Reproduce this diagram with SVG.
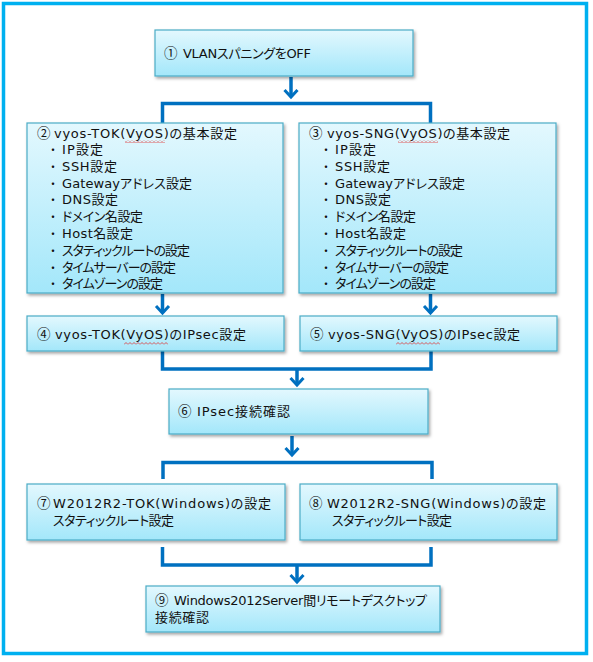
<svg xmlns="http://www.w3.org/2000/svg" width="593" height="662" viewBox="0 0 593 662">
<defs>
<linearGradient id="boxFill" x1="0" y1="0" x2="0" y2="1">
<stop offset="0" stop-color="#E3F8FE"/>
<stop offset="1" stop-color="#A3E7FA"/>
</linearGradient>
<filter id="shadow" x="-10%" y="-10%" width="125%" height="150%">
<feDropShadow dx="1.5" dy="2" stdDeviation="1.5" flood-color="#000" flood-opacity="0.35"/>
</filter>
<marker id="arrow" markerUnits="userSpaceOnUse" markerWidth="20" markerHeight="20" viewBox="-12 -10 16 20" refX="0" refY="0" orient="auto">
<path d="M-7,-6.5 L0,0 L-7,6.5" fill="none" stroke="#0070C0" stroke-width="3"/>
</marker>
<pattern id="squiggle" width="4" height="3" patternUnits="userSpaceOnUse">
<path d="M0,2.5 L2,0.5 L4,2.5" fill="none" stroke="#E03030" stroke-width="0.8"/>
</pattern>
<style>
.box { fill:url(#boxFill); stroke:#4BACC6; stroke-width:1.2; filter:url(#shadow); }
.t { font-family:"DejaVu Sans","Noto Sans CJK JP",sans-serif; font-size:13px; fill:#111; font-feature-settings:"palt" 1; }
.c { font-family:"Noto Sans CJK JP",sans-serif; font-size:13.5px; fill:#111; }
.b { font-family:"Noto Sans CJK JP",sans-serif; font-size:11.5px; fill:#111; text-anchor:middle; }
.conn { fill:none; stroke:#0070C0; stroke-width:3.5; }
.sq { fill:url(#squiggle); }
</style>
</defs>
<rect x="3.5" y="3.5" width="583" height="650" fill="#FFFFFF" stroke="#00B0F0" stroke-width="3.5"/>

<g id="connectors">
<line class="conn" x1="291" y1="77" x2="291" y2="97" marker-end="url(#arrow)"/>
<path class="conn" d="M162.5,123 V103.5 H430.5 V123"/>
<line class="conn" x1="162.5" y1="294" x2="162.5" y2="313" marker-end="url(#arrow)"/>
<line class="conn" x1="430.5" y1="294" x2="430.5" y2="313" marker-end="url(#arrow)"/>
<path class="conn" d="M162.5,351 V369 H431 V351"/>
<line class="conn" x1="297" y1="369" x2="297" y2="385" marker-end="url(#arrow)"/>
<line class="conn" x1="292" y1="436" x2="292" y2="455" marker-end="url(#arrow)"/>
<path class="conn" d="M163,479 V462.5 H432 V479"/>
<path class="conn" d="M162.5,547 V565 H431 V547"/>
<line class="conn" x1="297" y1="565" x2="297" y2="582" marker-end="url(#arrow)"/>
</g>

<g id="n1">
<rect class="box" x="155" y="30" width="258" height="46"/>
<text class="c" x="164" y="58">①</text>
<text class="t" x="183" y="58" textLength="128" lengthAdjust="spacing">VLANスパニングをOFF</text>
</g>

<g id="n2">
<rect class="box" x="27" y="123" width="256" height="170"/>
<text class="c" x="37" y="137.5">②</text>
<text class="t" x="54" y="137.5" textLength="183" lengthAdjust="spacing">vyos-TOK(VyOS)の基本設定</text>
<rect class="sq" x="125" y="140" width="40" height="3"/>
<g class="b">
<text x="53" y="154">・</text>
<text x="53" y="170.8">・</text>
<text x="53" y="187.6">・</text>
<text x="53" y="204.4">・</text>
<text x="53" y="221.2">・</text>
<text x="53" y="238">・</text>
<text x="53" y="254.8">・</text>
<text x="53" y="271.6">・</text>
<text x="53" y="288.4">・</text>
</g>
<g class="t">
<text x="62" y="154" textLength="41" lengthAdjust="spacing">IP設定</text>
<text x="62" y="170.8" textLength="55" lengthAdjust="spacing">SSH設定</text>
<text x="62" y="187.6" textLength="130" lengthAdjust="spacing">Gatewayアドレス設定</text>
<text x="62" y="204.4" textLength="56" lengthAdjust="spacing">DNS設定</text>
<text x="62" y="221.2" textLength="81" lengthAdjust="spacing">ドメイン名設定</text>
<text x="62" y="238" textLength="71" lengthAdjust="spacing">Host名設定</text>
<text x="62" y="254.8" textLength="128" lengthAdjust="spacing">スタティックルートの設定</text>
<text x="62" y="271.6" textLength="114" lengthAdjust="spacing">タイムサーバーの設定</text>
<text x="62" y="288.4" textLength="101" lengthAdjust="spacing">タイムゾーンの設定</text>
</g>
</g>

<g id="n3">
<rect class="box" x="299" y="123" width="257" height="170"/>
<text class="c" x="309" y="137.5">③</text>
<text class="t" x="327" y="137.5" textLength="183" lengthAdjust="spacing">vyos-SNG(VyOS)の基本設定</text>
<rect class="sq" x="398" y="140" width="40" height="3"/>
<g class="b">
<text x="326" y="154">・</text>
<text x="326" y="170.8">・</text>
<text x="326" y="187.6">・</text>
<text x="326" y="204.4">・</text>
<text x="326" y="221.2">・</text>
<text x="326" y="238">・</text>
<text x="326" y="254.8">・</text>
<text x="326" y="271.6">・</text>
<text x="326" y="288.4">・</text>
</g>
<g class="t">
<text x="335" y="154" textLength="41" lengthAdjust="spacing">IP設定</text>
<text x="335" y="170.8" textLength="55" lengthAdjust="spacing">SSH設定</text>
<text x="335" y="187.6" textLength="130" lengthAdjust="spacing">Gatewayアドレス設定</text>
<text x="335" y="204.4" textLength="56" lengthAdjust="spacing">DNS設定</text>
<text x="335" y="221.2" textLength="81" lengthAdjust="spacing">ドメイン名設定</text>
<text x="335" y="238" textLength="71" lengthAdjust="spacing">Host名設定</text>
<text x="335" y="254.8" textLength="128" lengthAdjust="spacing">スタティックルートの設定</text>
<text x="335" y="271.6" textLength="114" lengthAdjust="spacing">タイムサーバーの設定</text>
<text x="335" y="288.4" textLength="101" lengthAdjust="spacing">タイムゾーンの設定</text>
</g>
</g>

<g id="n4">
<rect class="box" x="27" y="316" width="257" height="35"/>
<text class="c" x="37" y="339">④</text>
<text class="t" x="55" y="339" textLength="191" lengthAdjust="spacing">vyos-TOK(VyOS)のIPsec設定</text>
<rect class="sq" x="124" y="342" width="44" height="3"/>
</g>

<g id="n5">
<rect class="box" x="300" y="316" width="257" height="35"/>
<text class="c" x="310" y="339">⑤</text>
<text class="t" x="328" y="339" textLength="192" lengthAdjust="spacing">vyos-SNG(VyOS)のIPsec設定</text>
<rect class="sq" x="396" y="342" width="44" height="3"/>
</g>

<g id="n6">
<rect class="box" x="169" y="389" width="259" height="45"/>
<text class="c" x="178" y="416">⑥</text>
<text class="t" x="197" y="416" textLength="93" lengthAdjust="spacing">IPsec接続確認</text>
</g>

<g id="n7">
<rect class="box" x="27" y="484" width="258" height="56"/>
<text class="c" x="37" y="508">⑦</text>
<text class="t" x="53" y="508" textLength="218" lengthAdjust="spacing">W2012R2-TOK(Windows)の設定</text>
<text class="t" x="53" y="525" textLength="121" lengthAdjust="spacing">スタティックルート設定</text>
</g>

<g id="n8">
<rect class="box" x="300" y="484" width="257" height="56"/>
<text class="c" x="309" y="508">⑧</text>
<text class="t" x="327" y="508" textLength="219" lengthAdjust="spacing">W2012R2-SNG(Windows)の設定</text>
<text class="t" x="332" y="525" textLength="120" lengthAdjust="spacing">スタティックルート設定</text>
</g>

<g id="n9">
<rect class="box" x="146" y="586" width="294" height="46"/>
<text class="c" x="155" y="605">⑨</text>
<text class="t" x="174" y="605" textLength="253" lengthAdjust="spacing">Windows2012Server間リモートデスクトップ</text>
<text class="t" x="155" y="621.5" textLength="54" lengthAdjust="spacing">接続確認</text>
</g>
</svg>
